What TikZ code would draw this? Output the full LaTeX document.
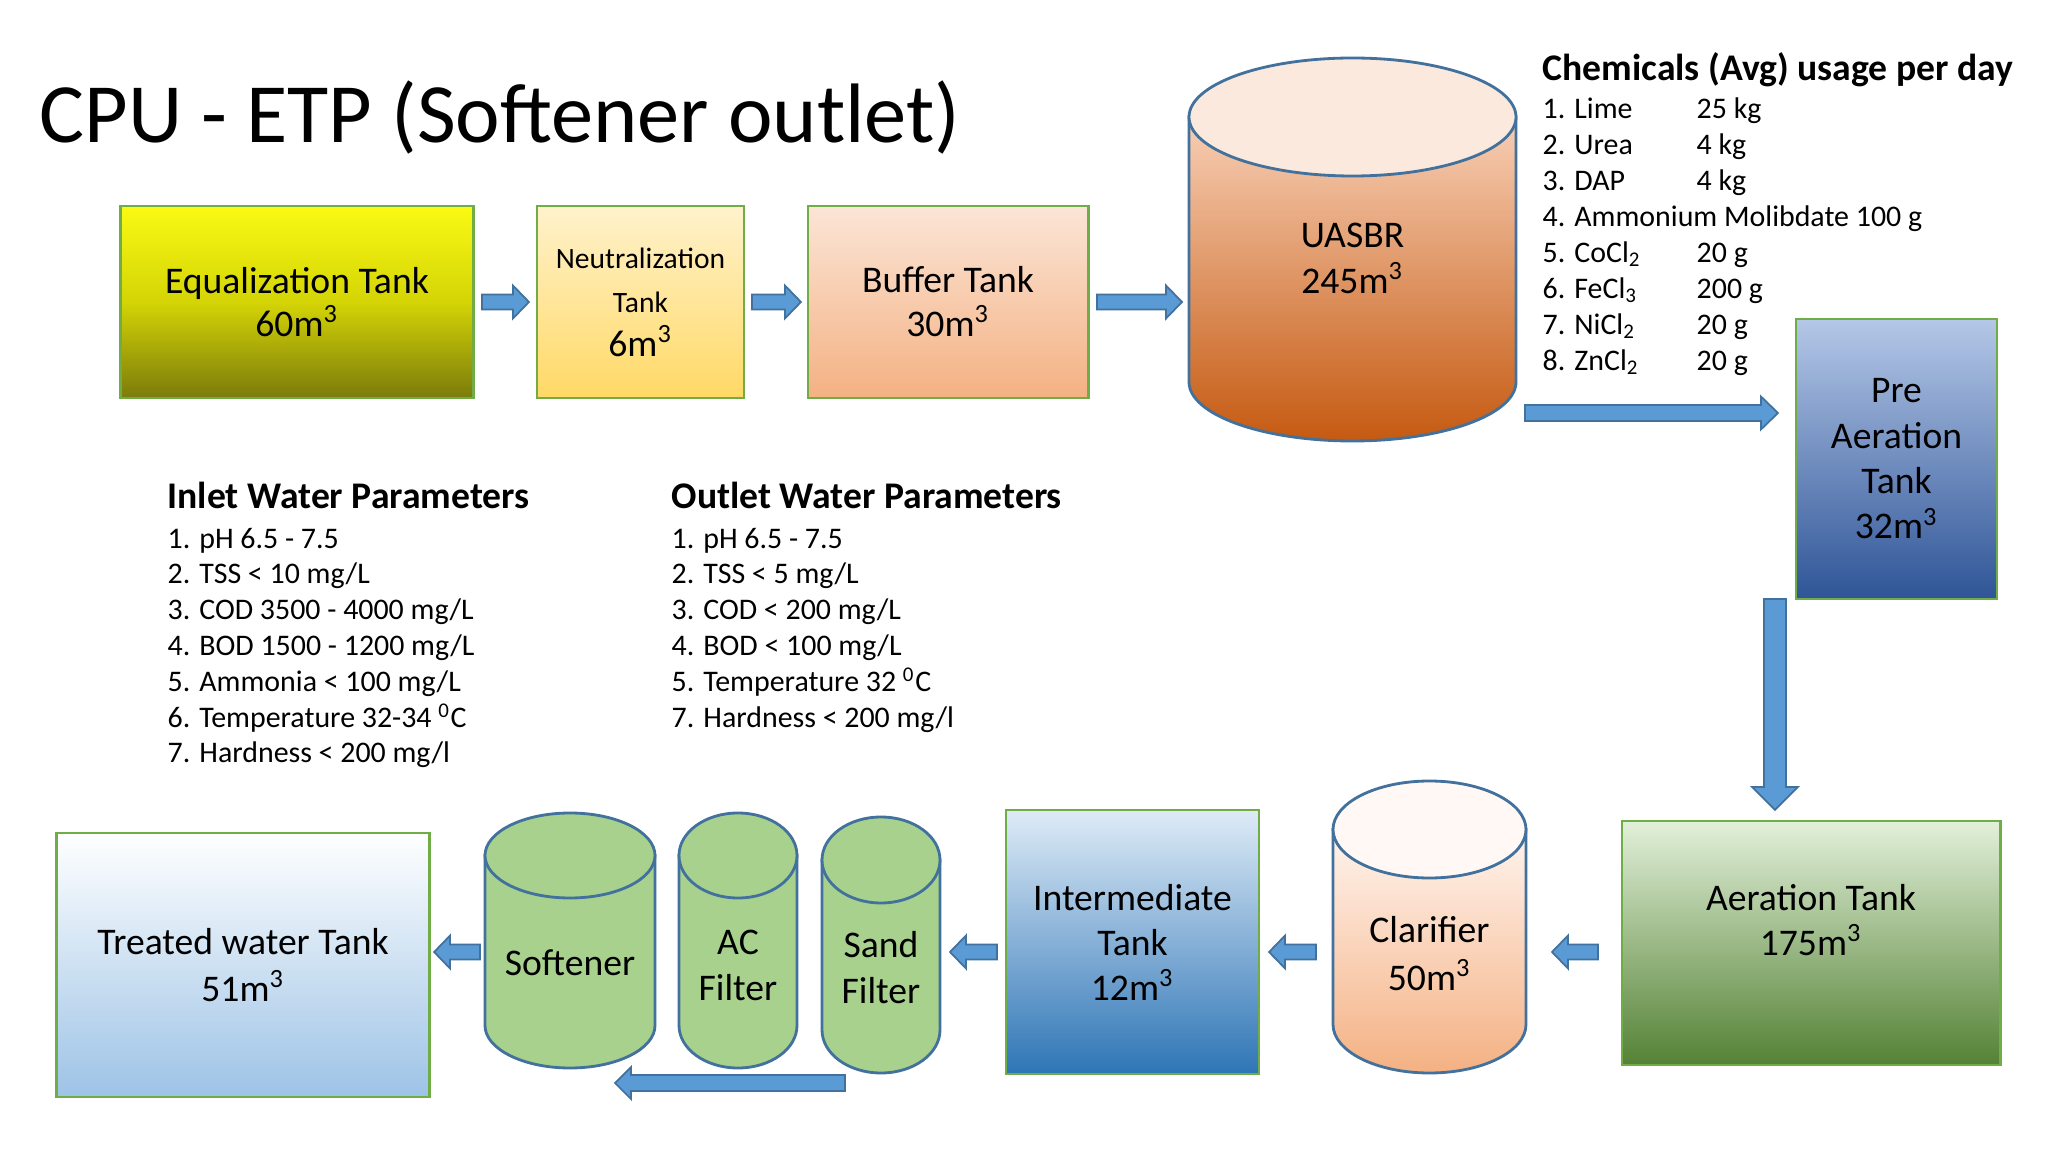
\documentclass[tikz,border=0pt]{standalone}
\usepackage{fontspec}
\setmainfont{Carlito}
\usetikzlibrary{calc}
\definecolor{arrfill}{HTML}{5B9BD5}
\definecolor{arrline}{HTML}{41719C}
\definecolor{boxline}{HTML}{70AD47}
\definecolor{eqtop}{HTML}{FAFA14}
\definecolor{eqmid}{HTML}{D4D406}
\definecolor{eqbot}{HTML}{7B7B0C}
\definecolor{neutop}{HTML}{FFF2CC}
\definecolor{neubot}{HTML}{FFD966}
\definecolor{buftop}{HTML}{FBE5D6}
\definecolor{bufbot}{HTML}{F4B183}
\definecolor{pretop}{HTML}{B4C7E7}
\definecolor{prebot}{HTML}{2F5597}
\definecolor{aertop}{HTML}{E2F0D9}
\definecolor{aerbot}{HTML}{548235}
\definecolor{inttop}{HTML}{DEEBF7}
\definecolor{intbot}{HTML}{2E75B6}
\definecolor{trttop}{HTML}{FFFFFF}
\definecolor{trtbot}{HTML}{9DC3E6}
\definecolor{uastop}{HTML}{FCE9DD}
\definecolor{uasbody}{HTML}{F8CFB6}
\definecolor{uasbot}{HTML}{C55A11}
\definecolor{clartop}{HTML}{FFF8F4}
\definecolor{clarbody}{HTML}{FFF4EE}
\definecolor{clarbot}{HTML}{F4B183}
\definecolor{filt}{HTML}{A9D18E}

\tikzset{
  tank/.style={draw=boxline, line width=0.8pt, inner sep=0pt, outer sep=0pt, align=center,
    font=\fontsize{10.7}{12.8}\selectfont},
  barrow/.style={fill=arrfill, draw=arrline, line width=0.5pt, line join=miter},
  cylline/.style={draw=arrline, line width=0.8pt},
  boxtext/.style={align=center, inner sep=0pt, font=\fontsize{10.7}{12.8}\selectfont},
  listtext/.style={anchor=base west, inner sep=0pt, font=\fontsize{8.5}{10.2}\selectfont},
  listhead/.style={anchor=base west, inner sep=0pt, font=\bfseries\fontsize{10.7}{12.8}\selectfont},
}

% cylinder: name, cx, top-center y, bottom-center y, rx, ry, top fill, body top, body bottom
\newcommand{\cyl}[9]{%
  \shadedraw[top color=#8, bottom color=#9, cylline] (#2-#5,#3) -- (#2-#5,#4)
     arc[start angle=180, end angle=0, x radius=#5, y radius=#6] -- (#2+#5,#3) -- cycle;
  \filldraw[fill=#7, cylline] (#2,#3) ellipse[x radius=#5, y radius=#6];
  \node[inner sep=0pt, outer sep=0pt, minimum width={2*#5*0.01cm},
        minimum height={(#4-#3+2*#6)*0.01cm}] (#1) at (#2,{(#3+#4)/2}) {};
}
% block arrows: tail, tip, shaft half width, head half width, head length
\newcommand{\arrR}[5]{\filldraw[barrow] ($(#1)+(0,-#3)$) -- ($(#2)+(-#5,-#3)$) -- ($(#2)+(-#5,-#4)$) -- (#2) -- ($(#2)+(-#5,#4)$) -- ($(#2)+(-#5,#3)$) -- ($(#1)+(0,#3)$) -- cycle;}
\newcommand{\arrL}[5]{\filldraw[barrow] ($(#1)+(0,-#3)$) -- ($(#2)+(#5,-#3)$) -- ($(#2)+(#5,-#4)$) -- (#2) -- ($(#2)+(#5,#4)$) -- ($(#2)+(#5,#3)$) -- ($(#1)+(0,#3)$) -- cycle;}
\newcommand{\arrD}[5]{\filldraw[barrow] ($(#1)+(-#3,0)$) -- ($(#2)+(-#3,-#5)$) -- ($(#2)+(-#4,-#5)$) -- (#2) -- ($(#2)+(#4,-#5)$) -- ($(#2)+(#3,-#5)$) -- ($(#1)+(#3,0)$) -- cycle;}

\begin{document}
\begin{tikzpicture}[x=0.01cm, y=-0.01cm]
\fill[white] (0,0) rectangle (2048,1152);
\useasboundingbox (0,0) rectangle (2048,1152);

% title
\node[anchor=base west, inner sep=0pt, font=\fontsize{24}{29}\selectfont] (title) at (39,143)
  {CPU - ETP (Softener outlet)};

% top row
\node[tank, minimum width=3.52cm, minimum height=1.92cm, top color=eqtop, bottom color=eqbot, middle color=eqmid,
  font=\fontsize{10.7}{12.2}\selectfont] (eq) at (297,302) {Equalization Tank\\60m\textsuperscript{3}};
\node[tank, minimum width=2.07cm, minimum height=1.92cm, top color=neutop, bottom color=neubot,
  font=\fontsize{8.4}{12.5}\selectfont] (neu) at (640.5,302)
  {Neutralization\\Tank\\{\fontsize{10.7}{12.5}\selectfont 6m\textsuperscript{3}}};
\node[tank, minimum width=2.80cm, minimum height=1.92cm, top color=buftop, bottom color=bufbot,
  font=\fontsize{10.7}{12.5}\selectfont] (buf) at (948,302) {Buffer Tank\\30m\textsuperscript{3}};

\cyl{uasbr}{1352.5}{117}{382}{163.5}{59}{uastop}{uasbody}{uasbot}
\node[boxtext, font=\fontsize{10.7}{13.1}\selectfont] (uasbrtxt) at (1352.5,258) {UASBR\\245m\textsuperscript{3}};

\node[tank, minimum width=2.01cm, minimum height=2.80cm, top color=pretop, bottom color=prebot,
  font=\fontsize{10.7}{12.9}\selectfont] (pre) at (1896.5,459) {Pre\\Aeration\\Tank\\32m\textsuperscript{3}};

% bottom row
\node[tank, minimum width=3.78cm, minimum height=2.44cm, top color=aertop, bottom color=aerbot] (aer) at (1811,943) {};
\node[boxtext] (aertxt) at (1811,920.5) {Aeration Tank\\175m\textsuperscript{3}};

\cyl{clar}{1429.5}{829.5}{1024.5}{96.5}{48.5}{clartop}{clarbody}{clarbot}
\node[boxtext, font=\fontsize{10.7}{13.4}\selectfont] (clartxt) at (1429.5,953.5) {Clarifier\\50m\textsuperscript{3}};

\node[tank, minimum width=2.53cm, minimum height=2.64cm, top color=inttop, bottom color=intbot] (inter) at (1132.5,942)
  {Intermediate\\Tank\\12m\textsuperscript{3}};

\cyl{sand}{881}{860}{1030}{59}{43}{filt}{filt}{filt}
\node[boxtext, font=\fontsize{10.7}{13.1}\selectfont] (sandtxt) at (881,968) {Sand\\Filter};
\cyl{ac}{738}{855.5}{1025.5}{59}{42.5}{filt}{filt}{filt}
\node[boxtext, font=\fontsize{10.7}{13.1}\selectfont] (actxt) at (738,965) {AC\\Filter};
\cyl{soft}{570}{855.5}{1025.5}{85}{42.5}{filt}{filt}{filt}
\node[boxtext] (softtxt) at (570,963) {Softener};

\node[tank, minimum width=3.72cm, minimum height=2.64cm, top color=trttop, bottom color=trtbot,
  font=\fontsize{10.7}{13.4}\selectfont] (treat) at (243,965) {Treated water Tank\\51m\textsuperscript{3}};

% arrows
\coordinate (a1s) at ($(eq.east)+(9,0)$);      \coordinate (a1e) at ($(neu.west)+(-8,0)$);
\arrR{a1s}{a1e}{7.5}{16.5}{16}
\coordinate (a2s) at ($(neu.east)+(8,0)$);     \coordinate (a2e) at ($(buf.west)+(-7,0)$);
\arrR{a2s}{a2e}{7.5}{16.5}{16}
\coordinate (a3s) at ($(buf.east)+(9,0)$);     \coordinate (a3e) at ($(buf.east -| uasbr.west)+(-7,0)$);
\arrR{a3s}{a3e}{7.5}{16.5}{16}
\coordinate (a4e) at ($(pre.west)+(-18,-46)$); \coordinate (a4s) at ($(uasbr.east |- a4e)+(9,0)$);
\arrR{a4s}{a4e}{8}{16.5}{17}
\coordinate (a5s) at ($(pre.south west)+(-21,0)$); \coordinate (a5e) at ($(a5s |- aer.north)+(0,-11)$);
\arrD{a5s}{a5e}{11}{23}{23}
\coordinate (a6s) at ($(aer.west)+(-24,9)$);   \coordinate (a6e) at ($(clar.east |- a6s)+(26,0)$);
\arrL{a6s}{a6e}{7.5}{16.5}{16}
\coordinate (a7e) at ($(inter.east)+(10,10)$); \coordinate (a7s) at ($(clar.west |- a7e)+(-17,0)$);
\arrL{a7s}{a7e}{7.5}{16.5}{16}
\coordinate (a8s) at ($(inter.west)+(-9,10)$); \coordinate (a8e) at ($(sand.east |- a8s)+(10,0)$);
\arrL{a8s}{a8e}{7.5}{16.5}{16}
\coordinate (a9s) at ($(sand.south)+(-36,10)$); \coordinate (a9e) at ($(soft.south |- a9s)+(45,0)$);
\arrL{a9s}{a9e}{8}{16}{16}
\coordinate (a10s) at ($(soft.west)+(-5,11.5)$); \coordinate (a10e) at ($(treat.east |- a10s)+(5,0)$);
\arrL{a10s}{a10e}{7.5}{16.5}{16}

% chemicals
\node[listhead] (chemhead) at (1542,81) {Chemicals (Avg) usage per day};
\foreach \i/\a/\b in {1/{1. Lime}/{25 kg}, 2/{2. Urea}/{4 kg}, 3/{3. DAP}/{4 kg},
    5/{5. CoCl\textsubscript{2}}/{20 g}, 6/{6. FeCl\textsubscript{3}}/{200 g},
    7/{7. NiCl\textsubscript{2}}/{20 g}, 8/{8. ZnCl\textsubscript{2}}/{20 g}} {
  \node[listtext] (chemA\i) at (1542,{119+35.9*(\i-1)}) {\a};
  \node[listtext] (chemB\i) at (1696,{119+35.9*(\i-1)}) {\b};
}
\node[listtext] (chemA4) at (1542,{119+35.9*3}) {4. Ammonium Molibdate 100 g};

% inlet parameters
\node[listhead] (inhead) at (167,509) {Inlet Water Parameters};
\foreach \i/\t in {1/{1. pH 6.5 - 7.5}, 2/{2. TSS < 10 mg/L}, 3/{3. COD 3500 - 4000 mg/L},
    4/{4. BOD 1500 - 1200 mg/L}, 5/{5. Ammonia < 100 mg/L}, 6/{6. Temperature 32-34 \textsuperscript{0}C},
    7/{7. Hardness < 200 mg/l}} {
  \node[listtext] (in\i) at (167,{548+35.8*(\i-1)}) {\t};
}

% outlet parameters
\node[listhead] (outhead) at (671,509) {Outlet Water Parameters};
\foreach \i/\t in {1/{1. pH 6.5 - 7.5}, 2/{2. TSS < 5 mg/L}, 3/{3. COD < 200 mg/L},
    4/{4. BOD < 100 mg/L}, 5/{5. Temperature 32 \textsuperscript{0}C}, 6/{7. Hardness < 200 mg/l}} {
  \node[listtext] (out\i) at (671,{548+35.8*(\i-1)}) {\t};
}
\end{tikzpicture}
\end{document}
